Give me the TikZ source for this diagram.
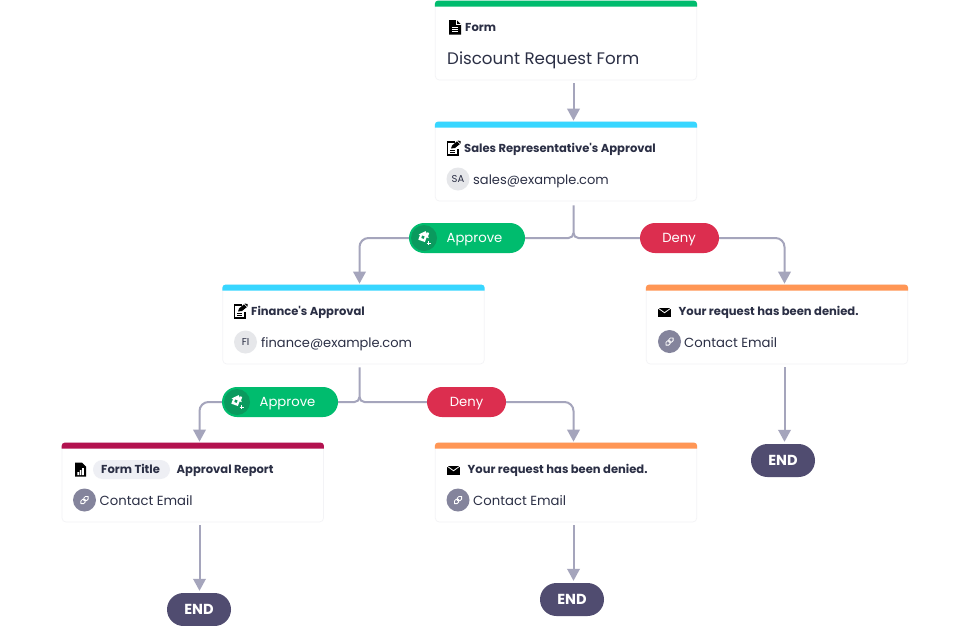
\documentclass[tikz,border=0pt]{standalone}
\usepackage{fontspec}
\newfontfamily\pop{Poppins}
\usetikzlibrary{arrows.meta,calc}
\definecolor{ink}{HTML}{2B2F45}
\definecolor{wirec}{HTML}{A5A5BC}
\definecolor{cardline}{HTML}{F3F3F6}
\definecolor{cgreen}{HTML}{00BC6E}
\definecolor{dgreen}{HTML}{0A9A5E}
\definecolor{ccyan}{HTML}{38D6FF}
\definecolor{corange}{HTML}{FF9655}
\definecolor{cmaroon}{HTML}{B3124F}
\definecolor{cred}{HTML}{DC2E4F}
\definecolor{endc}{HTML}{504C70}
\definecolor{linkc}{HTML}{84849C}
\definecolor{chipc}{HTML}{E6E7EA}
\definecolor{tagc}{HTML}{EEEFF4}
\tikzset{
  cardbox/.style={draw=cardline,line width=.7pt,fill=white,rounded corners=4pt,minimum width=261.5pt,minimum height=79pt,inner sep=0pt},
  pill/.style={rounded corners=15pt,minimum height=30pt,inner sep=0pt,fill=#1},
  endbox/.style={rounded corners=16.5pt,minimum width=64pt,minimum height=33pt,inner sep=0pt,fill=endc,text=white,font=\pop\fontsize{14.5}{16}\selectfont\bfseries},
  wire/.style={draw=wirec,line width=2pt},
  arrowwire/.style={wire,-{Triangle[length=12pt,width=12.5pt]}},
  titletext/.style={anchor=base west,inner sep=0pt,text=ink,font=\pop\fontsize{11.55}{13}\selectfont\bfseries},
  bodytext/.style={anchor=base west,inner sep=0pt,text=ink,font=\pop\fontsize{13.2}{15}\selectfont},
  mailtext/.style={bodytext,font=\pop\fontsize{13}{15}\selectfont},
  pilltext/.style={inner sep=0pt,text=white,font=\pop\fontsize{13.2}{15}\selectfont},
  avatar/.style={circle,fill=chipc,minimum size=23pt,inner sep=0pt,text=ink,font=\pop\fontsize{10}{11}\selectfont},
  linkdisc/.style={circle,fill=linkc,minimum size=23pt,inner sep=0pt},
}
% coloured band on top of a card
\newcommand{\topband}[2]{\fill[#2] ($(#1.north west)+(0,6)$) -- ($(#1.north west)+(0,3)$) arc[start angle=180,end angle=90,radius=3pt] -- ($(#1.north east)+(-3,0)$) arc[start angle=90,end angle=0,radius=3pt] -- ($(#1.north east)+(0,6)$) -- cycle;}
% icons, drawn around an origin at their top-left corner
\newcommand{\formicon}[2]{\begin{scope}[shift={(#1,#2)}]
  \fill[black] (0,0) -- (7.5,0) -- (12,4.5) -- (12,14.5) -- (0,14.5) -- cycle;
  \draw[white,line width=.8pt] (7.6,.3) -- (7.6,4.4) -- (11.8,4.4);
  \draw[white,line width=.9pt] (2.8,7) -- (9.2,7) (2.8,9.3) -- (9.2,9.3) (2.8,11.6) -- (9.2,11.6);
\end{scope}}
\newcommand{\approvalicon}[2]{\begin{scope}[shift={(#1,#2)}]
  \draw[black,line width=1.1pt] (8,1.5) -- (.7,1.5) -- (.7,14.5) -- (11,14.5) -- (11,8);
  \draw[black,line width=.9pt] (3,10) -- (8,10) (3,12.3) -- (8,12.3);
  \fill[black] (4,8) -- (5,5) -- (10,0.8) -- (12.8,3.6) -- (8,7.5) -- cycle;
  \fill[black] (10.5,0) -- (13.5,0.5) -- (13.5,3.2) -- cycle;
\end{scope}}
\newcommand{\mailicon}[2]{\begin{scope}[shift={(#1,#2)}]
  \fill[black] (0,0) rectangle (13,9.5);
  \draw[white,line width=.8pt] (0,.6) -- (6.5,5.2) -- (13,.6);
\end{scope}}
\newcommand{\reporticon}[2]{\begin{scope}[shift={(#1,#2)}]
  \fill[black] (0,0) -- (7,0) -- (11,4) -- (11,14) -- (0,14) -- cycle;
  \fill[white] (2.4,9.5) rectangle (4,12.5) (4.8,7.5) rectangle (6.4,12.5) (7.2,5.5) rectangle (8.8,12.5);
\end{scope}}
\newcommand{\linkicon}[1]{\begin{scope}[shift={(#1)},rotate=45]
  \draw[white,line width=.8pt,rounded corners=1.8pt] (-.8,-1.9) rectangle (5,1.9);
  \draw[white,line width=.8pt,rounded corners=1.8pt] (-5,-1.9) rectangle (.8,1.9);
\end{scope}}
\newcommand{\branchicon}[1]{\begin{scope}[shift={(#1)}]
  \fill[dgreen] (0,0) circle[radius=13pt];
  \begin{scope}[rotate=-20,shift={(-.8,-.5)}]
  \fill[white] (-5.5,-1) -- (0,-6.5) -- (2,-4.5) -- (2,-6) -- (4,-6) -- (4,-2.5) -- (5.5,-1) -- (3,-1) -- (3,4) -- (-4,4) -- (-4,-1) -- cycle;
  \fill[dgreen] (-1.8,-1.2) rectangle (.8,1.4);
  \end{scope}
  \draw[white,line width=.7pt] (2.5,5) -- (7,5) (4.75,2.75) -- (4.75,7.25);
\end{scope}}
\begin{document}
\begin{tikzpicture}[x=1pt,y=-1pt]
\useasboundingbox (0,0) rectangle (968,625);
\clip (0,0) rectangle (968,625);
\fill[white] (0,0) rectangle (968,625);

% cards
\node[cardbox] (form) at (566,40.5) {};
\node[cardbox] (sales) at (566,161.5) {};
\node[cardbox] (finance) at (353.5,324.5) {};
\node[cardbox] (deniedA) at (777,324.5) {};
\node[cardbox] (report) at (192.8,482.5) {};
\node[cardbox] (deniedB) at (566,482.5) {};
\topband{form}{cgreen}
\topband{sales}{ccyan}
\topband{finance}{ccyan}
\topband{deniedA}{corange}
\topband{report}{cmaroon}
\topband{deniedB}{corange}

% pills and ends
\node[pill=cgreen,minimum width=116pt] (approveA) at (467,238) {};
\node[pill=cred,minimum width=79pt] (denyA) at (679.5,238) {};
\node[pill=cgreen,minimum width=116pt] (approveB) at (280,402) {};
\node[pill=cred,minimum width=79pt] (denyB) at (466.5,402) {};
\node[endbox] (endA) at (783,460.5) {END};
\node[endbox] (endB) at (199,609.5) {END};
\node[endbox] (endC) at (572,599.5) {END};
\node[pilltext] (approveAt) at (474.5,239.5) {Approve};
\node[pilltext] (denyAt) at (679,239.5) {Deny};
\node[pilltext] (approveBt) at (287.5,403.5) {Approve};
\node[pilltext] (denyBt) at (466.5,403.5) {Deny};
\branchicon{424,238}
\branchicon{237,402}

% junctions and branch ends
\coordinate (joinA) at (573.5,238);
\coordinate (joinB) at (359.5,402);
\coordinate (turnAL) at (359.5,238);
\coordinate (turnAR) at (784.5,238);
\coordinate (turnBL) at (199.5,402);
\coordinate (turnBR) at (573.5,402);

% connectors
\draw[arrowwire] ($(form.south -| joinA)+(0,3)$) -- ($(sales.north -| joinA)+(0,-1)$);
\draw[wire] ($(sales.south -| joinA)+(0,4)$) -- ($(joinA)+(0,-5)$) to[out=-90,in=0] ($(joinA)+(-5,0)$) -- (approveA.east);
\draw[wire] ($(joinA)+(0,-5)$) to[out=-90,in=180] ($(joinA)+(5,0)$) -- (denyA.west);
\draw[arrowwire,rounded corners=9pt] (approveA.west) -- (turnAL) -- ($(finance.north -| turnAL)+(0,-1)$);
\draw[arrowwire,rounded corners=9pt] (denyA.east) -- (turnAR) -- ($(deniedA.north -| turnAR)+(0,-1)$);
\draw[wire] ($(finance.south -| joinB)+(0,3)$) -- ($(joinB)+(0,-5)$) to[out=-90,in=0] ($(joinB)+(-5,0)$) -- (approveB.east);
\draw[wire] ($(joinB)+(0,-5)$) to[out=-90,in=180] ($(joinB)+(5,0)$) -- (denyB.west);
\draw[arrowwire,rounded corners=9pt] (approveB.west) -- (turnBL) -- ($(report.north -| turnBL)+(0,-1)$);
\draw[arrowwire,rounded corners=9pt] (denyB.east) -- (turnBR) -- ($(deniedB.north -| turnBR)+(0,-1)$);
\draw[arrowwire] ($(deniedA.south -| turnAR)+(0,3)$) -- ($(endA.north -| turnAR)+(0,-2)$);
\draw[arrowwire] ($(report.south -| turnBL)+(0,3)$) -- ($(endB.north -| turnBL)+(0,-2)$);
\draw[arrowwire] ($(deniedB.south -| turnBR)+(0,3)$) -- ($(endC.north -| turnBR)+(0,-2)$);

% form card
\formicon{449}{20}
\node[titletext] (formT) at (465,31.5) {Form};
\node[bodytext,font=\pop\fontsize{16.7}{19}\selectfont] (formB) at (447,64.5) {Discount Request Form};
% sales card
\approvalicon{447}{140.5}
\node[titletext] (salesT) at (464,152.5) {Sales Representative's Approval};
\node[avatar] (salesA) at (458,179) {SA};
\node[mailtext] (salesB) at (473,184) {sales@example.com};
% finance card
\approvalicon{234}{303.5}
\node[titletext] (finT) at (251,315.5) {Finance's Approval};
\node[avatar] (finA) at (245.5,342) {FI};
\node[mailtext] (finB) at (261,347) {finance@example.com};
% denied A
\mailicon{658}{307.5}
\node[titletext] (deniedAT) at (678.5,315.5) {Your request has been denied.};
\node[linkdisc] (deniedAL) at (669.5,341.5) {};
\linkicon{deniedAL}
\node[bodytext] (deniedAB) at (684,347) {Contact Email};
% report
\reporticon{75}{462.5}
\fill[tagc] (93,460) [rounded corners=9.5pt] rectangle (170,479);
\node[titletext] (reportTag) at (101,473.5) {Form Title};
\node[titletext] (reportT) at (176.5,473.5) {Approval Report};
\node[linkdisc] (reportL) at (84.5,500) {};
\linkicon{reportL}
\node[bodytext] (reportB) at (99.5,505) {Contact Email};
% denied B
\mailicon{447}{465.5}
\node[titletext] (deniedBT) at (467.5,473.5) {Your request has been denied.};
\node[linkdisc] (deniedBL) at (458,500) {};
\linkicon{deniedBL}
\node[bodytext] (deniedBB) at (473,505) {Contact Email};
\end{tikzpicture}
\end{document}
